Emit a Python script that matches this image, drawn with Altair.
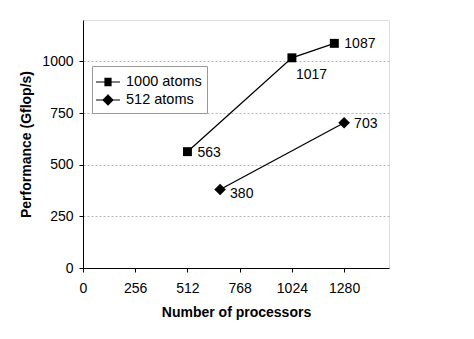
import altair as alt
import pandas as pd

series = ["1000 atoms", "1000 atoms", "1000 atoms", "512 atoms", "512 atoms"]
procs = [512, 1024, 1232, 672, 1280]
perf = [563, 1017, 1087, 380, 703]
label_pos = ["right", "below", "right", "belowright", "right"]

x_ticks = [0, 256, 512, 768, 1024, 1280]
y_ticks = [0, 250, 500, 750, 1000]
order = ["1000 atoms", "512 atoms"]

df = pd.DataFrame({"series": series, "procs": procs, "perf": perf,
                   "pos": label_pos, "label": [str(v) for v in perf]})

FONT = "Liberation Sans"

x = alt.X("procs:Q", scale=alt.Scale(domain=[0, 1500], nice=False),
          axis=alt.Axis(values=x_ticks, title="Number of processors", grid=False, format="d",
                        labelFontSize=14, titleFontSize=14, titleFontWeight="bold",
                        labelPadding=9, titlePadding=10, tickSize=4,
                        domainColor="black", tickColor="black", labelColor="black",
                        titleColor="black", labelFlush=False))
y = alt.Y("perf:Q", scale=alt.Scale(domain=[0, 1200], nice=False),
          axis=alt.Axis(values=y_ticks, title="Performance (Gflop/s)", format="d",
                        grid=True, gridDash=[2, 2], gridColor="#b5b5b5", gridWidth=1,
                        labelFontSize=14, titleFontSize=14, titleFontWeight="bold",
                        labelPadding=6, titlePadding=8, tickSize=4,
                        domainColor="black", tickColor="black", labelColor="black",
                        titleColor="black", labelFlush=False))

base = alt.Chart(df)

lines = base.mark_line(color="black", strokeWidth=1.3).encode(
    x=x, y=y, detail="series:N", order="procs:Q")

points = base.mark_point(filled=True, color="black", opacity=1).encode(
    x=x, y=y,
    shape=alt.Shape("series:N", scale=alt.Scale(domain=order, range=["square", "diamond"]),
                    legend=None),
    size=alt.Size("series:N", scale=alt.Scale(domain=order, range=[80, 135]), legend=None))


# legend glyphs (line + marker) drawn as stroke-only custom symbol paths
def hatch_square(h=0.36, step=0.06):
    p = "M-1.2,0H1.2"
    n = int(round(2 * h / step))
    for i in range(n + 1):
        yy = -h + i * step
        p += f"M{-h:.3f},{yy:.3f}H{h:.3f}"
    return p


def hatch_diamond(h=0.55, step=0.06):
    p = "M-1.2,0H1.2"
    n = int(round(2 * h / step))
    for i in range(n + 1):
        yy = -h + i * step
        w = max(h - abs(yy), 0.02)
        p += f"M{-w:.3f},{yy:.3f}H{w:.3f}"
    return p


legend_shapes = [hatch_square(), hatch_diamond()]
legend_layer = base.mark_point(filled=False, color="black", strokeWidth=1.1,
                               opacity=0, size=400).encode(
    x=x, y=y,
    shape=alt.Shape("series:N", scale=alt.Scale(domain=order, range=legend_shapes),
                    legend=alt.Legend(title=None, orient="none", legendX=9, legendY=46,
                                      symbolSize=400, symbolOpacity=1,
                                      symbolStrokeColor="black",
                                      symbolStrokeWidth=1.1, labelFontSize=14.5,
                                      labelColor="black", labelOffset=7,
                                      strokeColor="#999999", padding=5, rowPadding=0,
                                      fillColor="white", labelFont=FONT)))


def text_layer(pos, dx, dy):
    return base.transform_filter(alt.datum.pos == pos).mark_text(
        align="left", baseline="middle", dx=dx, dy=dy, fontSize=14, font=FONT,
        color="black").encode(x=x, y=y, text="label:N")


texts = text_layer("right", 10, 1) + text_layer("below", 4, 17) + text_layer("belowright", 10, 5)

chart = alt.layer(lines, points, legend_layer, texts).resolve_scale(
    shape="independent", size="independent").properties(
    width=306, height=248,
    autosize=alt.AutoSizeParams(type="none"),
    padding={"left": 83, "top": 20, "right": 85, "bottom": 71},
).configure_view(stroke="black", strokeWidth=1.5).configure(
    font=FONT).configure_axis(labelFont=FONT, titleFont=FONT)

chart.save("out.html", embed_options={"renderer": "svg", "actions": False})
